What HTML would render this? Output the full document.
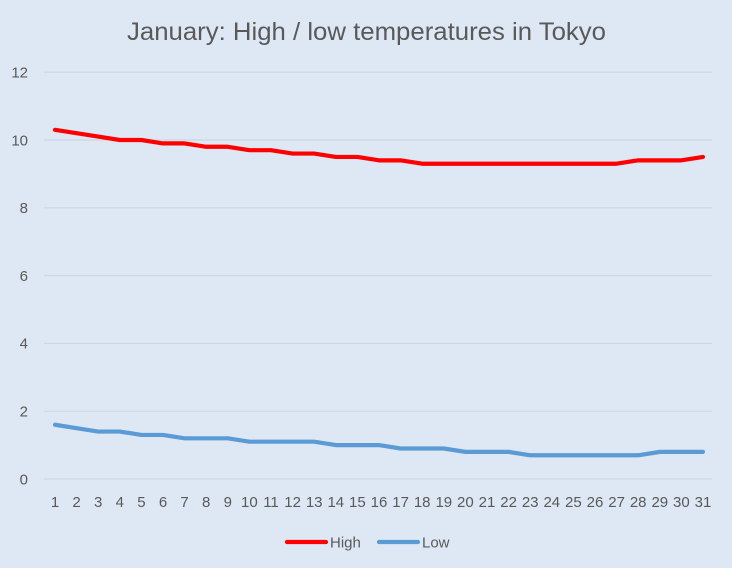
<!DOCTYPE html>
<html>
<head>
<meta charset="utf-8">
<style>
  html, body { margin: 0; padding: 0; background: #dee8f4; }
  svg { display: block; }
  text { font-family: "Liberation Sans", sans-serif; fill: #595959; }
</style>
</head>
<body>
<svg width="732" height="568" viewBox="0 0 732 568" xmlns="http://www.w3.org/2000/svg">
  <rect x="0" y="0" width="732" height="568" fill="#dee8f4"/>
  <text x="127" y="40" font-size="25" textLength="479" lengthAdjust="spacingAndGlyphs">January: High / low temperatures in Tokyo</text>

  <!-- gridlines -->
  <g stroke="#cfd6df" stroke-width="1.2">
    <line x1="44" y1="72.2" x2="712" y2="72.2"/>
    <line x1="44" y1="140" x2="712" y2="140"/>
    <line x1="44" y1="207.8" x2="712" y2="207.8"/>
    <line x1="44" y1="275.6" x2="712" y2="275.6"/>
    <line x1="44" y1="343.4" x2="712" y2="343.4"/>
    <line x1="44" y1="411.2" x2="712" y2="411.2"/>
    <line x1="44" y1="479" x2="712" y2="479"/>
  </g>

  <!-- y labels -->
  <g font-size="15" text-anchor="end">
    <text x="28" y="77.5">12</text>
    <text x="28" y="145.3">10</text>
    <text x="28" y="213.1">8</text>
    <text x="28" y="280.9">6</text>
    <text x="28" y="348.7">4</text>
    <text x="28" y="416.5">2</text>
    <text x="28" y="484.3">0</text>
  </g>

  <!-- x labels -->
  <g font-size="15" text-anchor="middle">
    <text x="55" y="507">1</text>
    <text x="76.6" y="507">2</text>
    <text x="98.2" y="507">3</text>
    <text x="119.8" y="507">4</text>
    <text x="141.4" y="507">5</text>
    <text x="163" y="507">6</text>
    <text x="184.6" y="507">7</text>
    <text x="206.2" y="507">8</text>
    <text x="227.8" y="507">9</text>
    <text x="249.4" y="507">10</text>
    <text x="271" y="507">11</text>
    <text x="292.6" y="507">12</text>
    <text x="314.2" y="507">13</text>
    <text x="335.8" y="507">14</text>
    <text x="357.4" y="507">15</text>
    <text x="379" y="507">16</text>
    <text x="400.6" y="507">17</text>
    <text x="422.2" y="507">18</text>
    <text x="443.8" y="507">19</text>
    <text x="465.4" y="507">20</text>
    <text x="487" y="507">21</text>
    <text x="508.6" y="507">22</text>
    <text x="530.2" y="507">23</text>
    <text x="551.8" y="507">24</text>
    <text x="573.4" y="507">25</text>
    <text x="595" y="507">26</text>
    <text x="616.6" y="507">27</text>
    <text x="638.2" y="507">28</text>
    <text x="659.8" y="507">29</text>
    <text x="681.4" y="507">30</text>
    <text x="703" y="507">31</text>
  </g>

  <!-- High series -->
  <polyline fill="none" stroke="#ff0000" stroke-width="4.2" stroke-linejoin="round" stroke-linecap="round"
    points="55,129.83 76.6,133.22 98.2,136.61 119.8,140 141.4,140 163,143.39 184.6,143.39 206.2,146.78 227.8,146.78 249.4,150.17 271,150.17 292.6,153.56 314.2,153.56 335.8,156.95 357.4,156.95 379,160.34 400.6,160.34 422.2,163.73 443.8,163.73 465.4,163.73 487,163.73 508.6,163.73 530.2,163.73 551.8,163.73 573.4,163.73 595,163.73 616.6,163.73 638.2,160.34 659.8,160.34 681.4,160.34 703,156.95"/>

  <!-- Low series -->
  <polyline fill="none" stroke="#5b9bd5" stroke-width="4.2" stroke-linejoin="round" stroke-linecap="round"
    points="55,424.76 76.6,428.15 98.2,431.54 119.8,431.54 141.4,434.93 163,434.93 184.6,438.32 206.2,438.32 227.8,438.32 249.4,441.71 271,441.71 292.6,441.71 314.2,441.71 335.8,445.1 357.4,445.1 379,445.1 400.6,448.49 422.2,448.49 443.8,448.49 465.4,451.88 487,451.88 508.6,451.88 530.2,455.27 551.8,455.27 573.4,455.27 595,455.27 616.6,455.27 638.2,455.27 659.8,451.88 681.4,451.88 703,451.88"/>

  <!-- legend -->
  <line x1="287" y1="542" x2="326" y2="542" stroke="#ff0000" stroke-width="4.2" stroke-linecap="round"/>
  <text x="330" y="547.5" font-size="15">High</text>
  <line x1="379" y1="542" x2="418" y2="542" stroke="#5b9bd5" stroke-width="4.2" stroke-linecap="round"/>
  <text x="422" y="547.5" font-size="15">Low</text>
</svg>
</body>
</html>
